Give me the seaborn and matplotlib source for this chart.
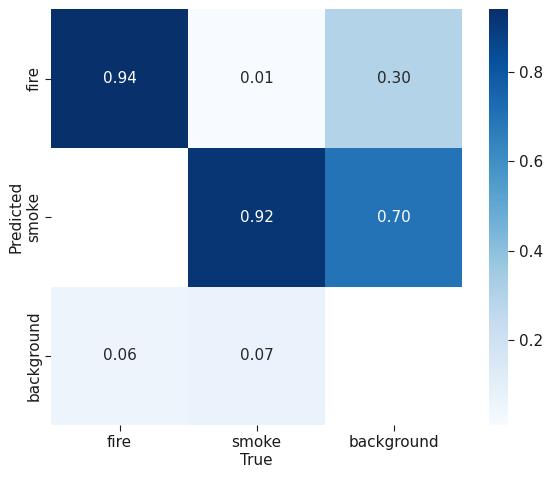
import numpy as np
import pandas as pd
import seaborn as sns
import matplotlib
matplotlib.use("Agg")
import matplotlib.pyplot as plt

# Normalized confusion matrix (columns = True, rows = Predicted); zeros left blank
names = ["fire", "smoke", "background"]
fire_row = [0.94, 0.01, 0.30]
smoke_row = [np.nan, 0.92, 0.70]
background_row = [0.06, 0.07, np.nan]

cm = pd.DataFrame([fire_row, smoke_row, background_row], index=names, columns=names)

sns.set_theme(style="white", font_scale=1.0)
plt.rcParams['font.family'] = ['DejaVu Sans']

fig = plt.figure(figsize=(5.5, 4.87), dpi=100)
ax = fig.add_axes([0.093, 0.127, 0.747, 0.854])
cax = fig.add_axes([0.889, 0.127, 0.035, 0.854])

sns.heatmap(cm, ax=ax, cbar_ax=cax, annot=True, fmt=".2f", cmap="Blues",
            annot_kws={"size": 11}, square=False,
            xticklabels=names, yticklabels=names)
ax.set_facecolor((1, 1, 1))
ax.set_xlabel("True", fontsize=11, color="#1a1a1a", labelpad=2)
ax.set_ylabel("Predicted", fontsize=11, color="#1a1a1a", labelpad=2)
ax.tick_params(axis="both", which="both", length=4, width=0.8, labelsize=11,
               bottom=True, left=True, color="#1a1a1a", labelcolor="#1a1a1a", pad=3)
plt.setp(ax.get_yticklabels(), rotation=90, va="center")
plt.setp(ax.get_xticklabels(), rotation=0)
cax.tick_params(labelsize=11, length=4, width=0.8, right=True, color="#1a1a1a",
                labelcolor="#1a1a1a")
cax.set_yticks([0.2, 0.4, 0.6, 0.8])

fig.savefig("out.png", dpi=100)
